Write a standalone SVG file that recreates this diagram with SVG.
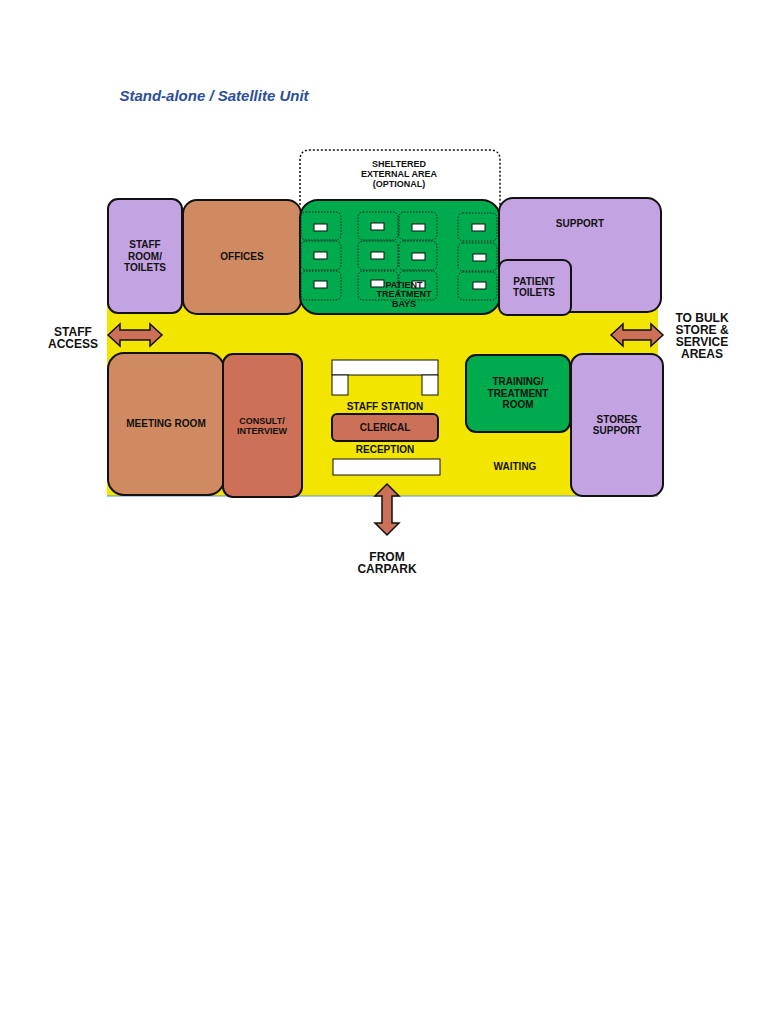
<svg xmlns="http://www.w3.org/2000/svg" width="768" height="1024" viewBox="0 0 768 1024">
<style>
text{font-family:"Liberation Sans",Arial,sans-serif;font-weight:bold;font-size:10px;text-anchor:middle;fill:#111}
.r{stroke:#111;stroke-width:2}
.bay{fill:none;stroke:#222;stroke-width:1;stroke-dasharray:1.5,1.5}
.w{fill:#fff;stroke:#111;stroke-width:1}
.big{font-size:12px}
.arr{fill:#cd7058;stroke:#111;stroke-width:1.5}
</style>
<rect width="768" height="1024" fill="#fff"/>
<text x="214" y="101" style="font-size:15px;font-style:italic;fill:#2b4f9a">Stand-alone / Satellite Unit</text>
<rect x="107" y="296" width="551" height="200" fill="#f2e500"/>
<line x1="107" y1="496" x2="658" y2="496" stroke="#5b8fd6" stroke-width="1"/>
<g id="sheltered"><path d="M300,205 V160 Q300,150 310,150 H490 Q500,150 500,160 V205" fill="none" stroke="#111" stroke-width="1.5" stroke-dasharray="2,2"/>
<text x="399" y="167" style="font-size:9px">SHELTERED</text><text x="399" y="177" style="font-size:9px">EXTERNAL AREA</text><text x="399" y="187" style="font-size:9px">(OPTIONAL)</text></g>
<g id="staffroom"><rect class="r" x="108" y="199" width="74" height="114" rx="10" fill="#c4a3e3"/><text x="145" y="248">STAFF</text><text x="145" y="260">ROOM/</text><text x="145" y="271">TOILETS</text></g>
<g id="offices"><rect class="r" x="183" y="200" width="118" height="114" rx="14" fill="#d08a62"/><text x="242" y="260">OFFICES</text></g>
<g id="bays"><rect class="r" x="300" y="200" width="200" height="114" rx="18" fill="#00ab4e"/>
<rect class="bay" x="301" y="212" width="40" height="28" rx="5"/><rect class="bay" x="301" y="241" width="40" height="29" rx="5"/><rect class="bay" x="301" y="271" width="40" height="29" rx="5"/>
<rect class="bay" x="358" y="212" width="40" height="28" rx="5"/><rect class="bay" x="358" y="241" width="40" height="29" rx="5"/><rect class="bay" x="358" y="271" width="40" height="29" rx="5"/>
<rect class="bay" x="399" y="212" width="38" height="28" rx="5"/><rect class="bay" x="399" y="241" width="38" height="29" rx="5"/><rect class="bay" x="399" y="271" width="38" height="29" rx="5"/>
<rect class="bay" x="458" y="213" width="39" height="28" rx="5"/><rect class="bay" x="458" y="243" width="39" height="28" rx="5"/><rect class="bay" x="458" y="272" width="39" height="28" rx="5"/>
<rect class="w" x="314" y="224" width="13" height="7"/><rect class="w" x="314" y="252" width="13" height="7"/><rect class="w" x="314" y="281" width="13" height="7"/>
<rect class="w" x="371" y="223" width="13" height="7"/><rect class="w" x="371" y="252" width="13" height="7"/><rect class="w" x="371" y="280" width="13" height="7"/>
<rect class="w" x="412" y="224" width="13" height="7"/><rect class="w" x="412" y="253" width="13" height="7"/><rect class="w" x="412" y="281" width="13" height="7"/>
<rect class="w" x="472" y="224" width="13" height="7"/><rect class="w" x="473" y="254" width="13" height="7"/><rect class="w" x="473" y="282" width="13" height="7"/>
<text x="404" y="288" style="font-size:9px">PATIENT</text><text x="404" y="297" style="font-size:9px">TREATMENT</text><text x="404" y="307" style="font-size:9px">BAYS</text></g>
<g id="support"><rect class="r" x="499" y="198" width="162" height="114" rx="14" fill="#c4a3e3"/><text x="580" y="227">SUPPORT</text></g>
<g id="ptoilets"><rect class="r" x="499" y="260" width="72" height="55" rx="8" fill="#c4a3e3"/><text x="534" y="285">PATIENT</text><text x="534" y="296">TOILETS</text></g>
<g id="meeting"><rect class="r" x="108" y="353" width="116" height="142" rx="16" fill="#d08a62"/><text x="166" y="427">MEETING ROOM</text></g>
<g id="consult"><rect class="r" x="223" y="354" width="79" height="143" rx="10" fill="#cd7058"/><text x="262" y="424" style="font-size:9px">CONSULT/</text><text x="262" y="434" style="font-size:9px">INTERVIEW</text></g>
<g id="staffstation"><rect class="w" x="332" y="360" width="106" height="15"/><rect class="w" x="332" y="375" width="16" height="20"/><rect class="w" x="422" y="375" width="16" height="20"/><text x="385" y="410">STAFF STATION</text></g>
<g id="clerical"><rect class="r" x="332" y="414" width="106" height="27" rx="5" fill="#cd7058"/><text x="385" y="431">CLERICAL</text></g>
<g id="reception"><text x="385" y="453">RECEPTION</text><rect class="w" x="333" y="459" width="107" height="16"/></g>
<g id="training"><rect class="r" x="466" y="355" width="104" height="77" rx="10" fill="#00ab4e"/><text x="518" y="385">TRAINING/</text><text x="518" y="397">TREATMENT</text><text x="518" y="408">ROOM</text></g>
<text x="515" y="470">WAITING</text>
<g id="stores"><rect class="r" x="571" y="354" width="92" height="142" rx="12" fill="#c4a3e3"/><text x="617" y="423">STORES</text><text x="617" y="434">SUPPORT</text></g>
<g id="connectors">
<path class="arr" d="M108,335 L120,324 V330 H150 V324 L162,335 L150,346 V340 H120 V346 Z"/>
<path class="arr" d="M611,335 L623,324 V330 H651 V324 L663,335 L651,346 V340 H623 V346 Z"/>
<path class="arr" d="M387,484 L399,496 H392 V523 H399 L387,535 L375,523 H382 V496 H375 Z"/>
</g>
<text class="big" x="73" y="336">STAFF</text><text class="big" x="73" y="348">ACCESS</text>
<text class="big" x="702" y="322">TO BULK</text><text class="big" x="702" y="334">STORE &amp;</text><text class="big" x="702" y="346">SERVICE</text><text class="big" x="702" y="358">AREAS</text>
<text class="big" x="387" y="561">FROM</text><text class="big" x="387" y="573">CARPARK</text>
</svg>
